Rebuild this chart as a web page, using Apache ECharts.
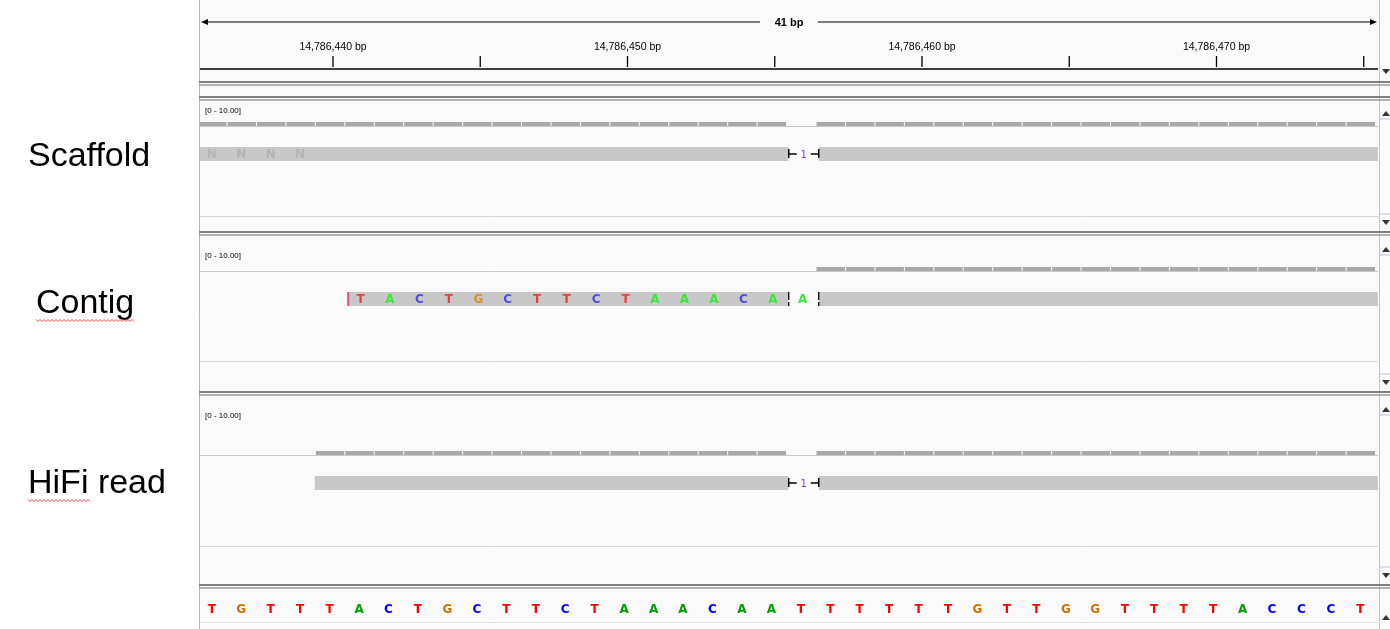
<!DOCTYPE html>
<html><head><meta charset="utf-8">
<script src="https://cdn.jsdelivr.net/npm/echarts@6/dist/echarts.min.js"></script>
<style>html,body{margin:0;padding:0;background:#fff}#c{width:1390px;height:629px}</style>
</head><body><div id="c"></div>
<script>
// ---- data ----
const refSeq = ['T','G','T','T','T','A','C','T','G','C','T','T','C','T','A','A','A','C','A','A',
                'T','T','T','T','T','T','G','T','T','G','G','T','T','T','T','A','C','C','C','T'];
const rulerTicks = [14786440,14786445,14786450,14786455,14786460,14786465,14786470,14786475];
const rulerLabels = ['14,786,440 bp','','14,786,450 bp','','14,786,460 bp','','14,786,470 bp',''];
const spanLabel = '41 bp';
const trackNames = ['Scaffold','Contig','HiFi read'];
const dataRange = '[0 - 10.00]';
const readStart = [-0.5, 4.6, 3.5];
const readEnd = [39.6, 39.6, 39.6];
const insertionPos = 20.1;
const insertionLen = [1, 1, 1];
const insertedBase = 'A';
const scaffoldBases = [[0,'N'],[1,'N'],[2,'N'],[3,'N']];
const contigBases = ['T','A','C','T','G','C','T','T','C','T','A','A','A','C','A'].map((b,i)=>[5+i,b]);
const covScaffold = refSeq.map((_,i)=>i).filter(i=>i!==20);
const covContig = refSeq.map((_,i)=>i).filter(i=>i>20);
const covHifi = refSeq.map((_,i)=>i).filter(i=>i>=4 && i!==20);

// ---- layout/style ----
const seqColor = {T:'#ff0000',G:'#d17105',C:'#0000ff',A:'#00a000',N:'#b4b4b4'};
const readColor = {T:'#f03c3c',G:'#d8912b',C:'#4b4bf0',A:'#3ce63c',N:'#b4b4b4'};
const tracks = [
  {top:101, lab:111, cov:126, ry:147, low:216, bot:232},
  {top:237, lab:256, cov:271, ry:292, low:361, bot:392},
  {top:397, lab:416, cov:455, ry:476, low:546, bot:585}
];
const RH = 14;
const chart = echarts.init(document.getElementById('c'));
const series = [];
function custom(data, render, xi){ series.push({type:'custom', xAxisIndex:xi||0, data:data, renderItem:render, silent:true, animation:false, clip:false}); }

[covScaffold,covContig,covHifi].forEach((cov,t)=>{
  custom(cov.map(i=>[i]), (p,api)=>{
    const a=api.coord([api.value(0)-0.5,tracks[t].cov]), b=api.coord([api.value(0)+0.5,tracks[t].cov]);
    const x0=Math.max(a[0]+1,200), x1=Math.min(b[0],1378);
    return {type:'rect', shape:{x:x0,y:a[1]-4,width:x1-x0,height:4}, style:{fill:'#a8a8a8'}};
  });
});
trackNames.forEach((n,t)=>{
  const segs=[[readStart[t], insertionPos-0.52],[insertionPos+0.52, readEnd[t]]];
  custom(segs, (p,api)=>{
    const a=api.coord([api.value(0),tracks[t].ry]), b=api.coord([api.value(1),tracks[t].ry]);
    const x0=Math.max(a[0],200);
    const ch=[{type:'rect', shape:{x:x0,y:a[1],width:Math.min(b[0],1378)-x0,height:RH}, style:{fill:'#c8c8c8'}}];
    if(p.dataIndex===0 && t===1) ch.push({type:'rect',shape:{x:x0,y:a[1],width:2,height:RH},style:{fill:'#e0508c'}});
    return {type:'group', children:ch};
  });
  custom([[insertionPos, insertionLen[t]]], (p,api)=>{
    const c=api.coord([api.value(0),tracks[t].ry]); const y=c[1], x0=c[0]-15, x1=c[0]+15, m=y+RH/2;
    const ch=[];
    if(t===1){
      [x0,x1].forEach(x=>ch.push({type:'line',shape:{x1:x,y1:y,x2:x,y2:y+RH},style:{stroke:'#000',lineWidth:1.3,lineDash:[8,2]}}));
      ch.push({type:'text',style:{x:c[0]-1,y:m+1,text:insertedBase,fill:readColor[insertedBase],font:'bold 12px "DejaVu Sans"',align:'center',verticalAlign:'middle'}});
    } else {
      [x0,x1].forEach(x=>ch.push({type:'line',shape:{x1:x,y1:y+2,x2:x,y2:y+RH-1},style:{stroke:'#000',lineWidth:1.5,lineDash:[9,2]}}));
      ch.push({type:'line',shape:{x1:x0,y1:m,x2:x1,y2:m},style:{stroke:'#000',lineWidth:1.5}});
      ch.push({type:'rect',shape:{x:c[0]-7,y:y,width:14,height:RH},style:{fill:'#fafafa'}});
      ch.push({type:'text',style:{x:c[0],y:m+1,text:String(api.value(1)),fill:'#8a40d0',font:'10px "DejaVu Sans"',align:'center',verticalAlign:'middle'}});
    }
    return {type:'group',children:ch};
  });
});
[[scaffoldBases,0],[contigBases,1]].forEach(([arr,t])=>{
  custom(arr, (p,api)=>{
    const c=api.coord([api.value(0)+(t===1?0.05:0),tracks[t].ry]); const b=arr[p.dataIndex][1];
    return {type:'text',style:{x:c[0],y:c[1]+RH/2+1,text:b,fill:readColor[b],font:'bold 12px "DejaVu Sans"',align:'center',verticalAlign:'middle'}};
  });
});
custom(refSeq.map((b,i)=>[i,b]), (p,api)=>{
  const c=api.coord([api.value(0),610]); const b=refSeq[p.dataIndex];
  return {type:'text',style:{x:c[0],y:c[1],text:b,fill:seqColor[b],font:'bold 12px "DejaVu Sans"',align:'center',verticalAlign:'middle'}};
});
custom(rulerTicks.map((v,i)=>[v,i]), (p,api)=>{
  const c=api.coord([api.value(0),69]); const lab=rulerLabels[p.dataIndex];
  const ch=[{type:'line',shape:{x1:c[0],y1:56,x2:c[0],y2:67},style:{stroke:'#000',lineWidth:1.3}}];
  if(lab) ch.push({type:'text',style:{x:c[0],y:47,text:lab,fill:'#000',font:'10.5px "Liberation Sans"',align:'center',verticalAlign:'middle'}});
  return {type:'group',children:ch};
}, 1);

// ---- chrome ----
const g=[];
g.push({type:'rect',shape:{x:199,y:0,width:1191,height:629},style:{fill:'#fafafa'},z:-10});
g.push({type:'line',shape:{x1:199.5,y1:0,x2:199.5,y2:629},style:{stroke:'#b8b8b8',lineWidth:1}});
g.push({type:'rect',shape:{x:1379,y:0,width:1,height:629},style:{fill:'#b9c7d6'}});
g.push({type:'line',shape:{x1:204,y1:22,x2:760,y2:22},style:{stroke:'#000',lineWidth:1.2}});
g.push({type:'line',shape:{x1:818,y1:22,x2:1374,y2:22},style:{stroke:'#000',lineWidth:1.2}});
g.push({type:'polygon',shape:{points:[[201,22],[208,19],[208,25]]},style:{fill:'#000'}});
g.push({type:'polygon',shape:{points:[[1377,22],[1370,19],[1370,25]]},style:{fill:'#000'}});
g.push({type:'text',style:{x:789,y:23,text:spanLabel,fill:'#000',font:'bold 11px "Liberation Sans"',align:'center',verticalAlign:'middle'}});
g.push({type:'line',shape:{x1:200,y1:69,x2:1378,y2:69},style:{stroke:'#000',lineWidth:1.5}});
[[82,85],[97,100],[232,235],[392,395],[585,588]].forEach(([a,b])=>{
  g.push({type:'line',shape:{x1:199,y1:a,x2:1390,y2:a},style:{stroke:'#808080',lineWidth:2}});
  g.push({type:'line',shape:{x1:199,y1:b,x2:1390,y2:b},style:{stroke:'#9a9a9a',lineWidth:1.3}});
});
tracks.forEach((tr,t)=>{
  g.push({type:'text',style:{x:205,y:tr.lab,text:dataRange,fill:'#000',font:'8px "Liberation Sans Narrow", "Liberation Sans"',verticalAlign:'middle'}});
  g.push({type:'line',shape:{x1:200,y1:tr.cov+0.5,x2:1378,y2:tr.cov+0.5},style:{stroke:'#c8c8c8',lineWidth:1}});
  g.push({type:'line',shape:{x1:200,y1:tr.low+0.5,x2:1378,y2:tr.low+0.5},style:{stroke:'#d8d8d8',lineWidth:1}});
  g.push({type:'polygon',shape:{points:[[1382,tr.top+15],[1386,tr.top+10],[1390,tr.top+15]]},style:{fill:'#333'}});
  g.push({type:'polygon',shape:{points:[[1382,tr.bot-12],[1386,tr.bot-7],[1390,tr.bot-12]]},style:{fill:'#333'}});
  g.push({type:'line',shape:{x1:1380,y1:tr.top+18,x2:1390,y2:tr.top+18},style:{stroke:'#b9c7d6'}});
  g.push({type:'line',shape:{x1:1380,y1:tr.bot-18,x2:1390,y2:tr.bot-18},style:{stroke:'#b9c7d6'}});
});
g.push({type:'polygon',shape:{points:[[1382,69],[1386,74],[1390,69]]},style:{fill:'#333'}});
g.push({type:'polygon',shape:{points:[[1382,620],[1386,615],[1390,620]]},style:{fill:'#333'}});
g.push({type:'line',shape:{x1:200,y1:622.5,x2:1378,y2:622.5},style:{stroke:'#e4e4e4',lineWidth:1}});
const labPos=[[28,157],[36,304],[28,484]];
trackNames.forEach((n,t)=>{
  g.push({type:'text',style:{x:labPos[t][0],y:labPos[t][1],text:n,fill:'#000',font:'34px "Liberation Sans"',verticalAlign:'middle'}});
});
function squiggle(x0,x1,y){const pts=[];for(let x=x0,k=0;x<=x1;x+=2,k++)pts.push([x,y+(k%2?1.5:-0.5)]);
  g.push({type:'polyline',shape:{points:pts},style:{stroke:'#e02020',lineWidth:0.8,fill:null}});}
squiggle(36,134,320); squiggle(28,90,500);

chart.setOption({
  animation:false,
  grid:{left:200,right:12,top:0,bottom:0},
  xAxis:[{type:'value',min:-0.4,max:39.6,show:false},
         {type:'value',min:14786435.484,max:14786475.484,show:false}],
  yAxis:{type:'value',min:0,max:629,inverse:true,show:false},
  graphic:g,
  series:series
});
</script></body></html>
